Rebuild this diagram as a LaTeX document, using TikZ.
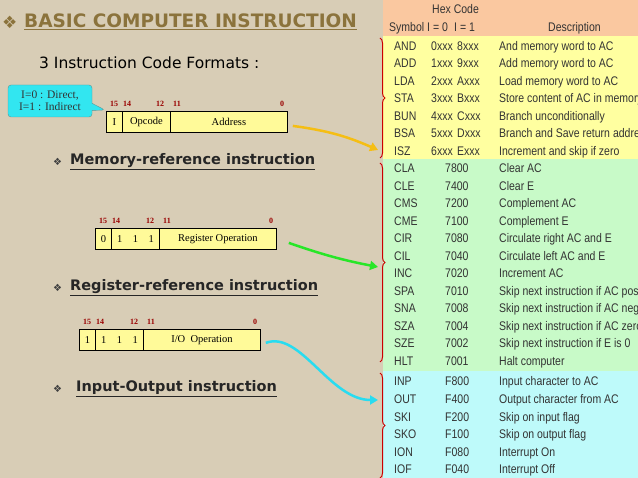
\documentclass[tikz,border=0pt]{standalone}
\usepackage{fontspec}
\usepackage{graphicx}
\setmainfont{Liberation Serif}
\newfontfamily\narrow{Liberation Sans}
\newfontfamily\ttl{DejaVu Sans}
\newfontfamily\ttlc{DejaVu Sans}
\newfontfamily\sym{DejaVu Sans}
\newcommand\nw[1]{\scalebox{0.84}[1]{#1}}
\usetikzlibrary{shapes.callouts,arrows.meta,decorations.pathreplacing}
\begin{document}
\begin{tikzpicture}[x=1pt,y=-1pt,
 tb/.style={font=\narrow\fontsize{12.5}{12.5}\selectfont,text=black!80,anchor=base west,inner sep=0},
 bit/.style={font=\bfseries\fontsize{8}{8}\selectfont,text=red!60!black,inner sep=0},
 cell/.style={draw=black,fill=yellow!40,line width=0.8pt},
 ctext/.style={font=\fontsize{10.5}{10.5}\selectfont,inner sep=0},
 head/.style={font=\ttl\bfseries\fontsize{14.5}{14.5}\selectfont,text=black!85,anchor=west,inner sep=0},
 brc/.style={draw=red!80!black,line width=1pt,decorate,decoration={brace,amplitude=5pt,mirror}},
 arr/.style={line width=2.5pt,-{Triangle[length=8pt,width=9pt]}}]
\useasboundingbox (0,0) rectangle (638,478);
\fill[fill={rgb,255:red,216;green,205;blue,182}] (0,0) rectangle (638,478);
% table backgrounds
\fill[fill={rgb,255:red,250;green,200;blue,160}] (383,0) rectangle (638,36);
\fill[fill={rgb,255:red,255;green,255;blue,160}] (383,36) rectangle (638,159);
\fill[fill={rgb,255:red,200;green,250;blue,200}] (383,159) rectangle (638,371);
\fill[fill={rgb,255:red,190;green,250;blue,250}] (383,371) rectangle (638,478);
\node[tb] (h1) at (432,14) {\nw{Hex Code}};
\node[tb] (h2) at (389,32) {\nw{Symbol}};
\node[tb] (h3) at (427,32) {\nw{I = 0}};
\node[tb] (h4) at (454,32) {\nw{I = 1}};
\node[tb] (h5) at (548,32) {\nw{Description}};
\foreach \i/\s/\a/\b/\d in {0/AND/0xxx/8xxx/And memory word to AC,1/ADD/1xxx/9xxx/Add memory word to AC,2/LDA/2xxx/Axxx/Load memory word to AC,3/STA/3xxx/Bxxx/Store content of AC in memory,4/BUN/4xxx/Cxxx/Branch unconditionally,5/BSA/5xxx/Dxxx/Branch and Save return address,6/ISZ/6xxx/Exxx/Increment and skip if zero}{
 \node[tb] (ms\i) at (394,{50.5+17.5*\i}) {\nw{\s}};
 \node[tb] (ma\i) at (431,{50.5+17.5*\i}) {\nw{\a}};
 \node[tb] (mb\i) at (457,{50.5+17.5*\i}) {\nw{\b}};
 \node[tb] (md\i) at (499,{50.5+17.5*\i}) {\nw{\d}};}
\foreach \i/\s/\a/\d in {0/CLA/7800/Clear AC,1/CLE/7400/Clear E,2/CMS/7200/Complement AC,3/CME/7100/Complement E,4/CIR/7080/Circulate right AC and E,5/CIL/7040/Circulate left AC and E,6/INC/7020/Increment AC,7/SPA/7010/Skip next instruction if AC positive,8/SNA/7008/Skip next instruction if AC negative,9/SZA/7004/Skip next instruction if AC zero,10/SZE/7002/Skip next instruction if E is 0,11/HLT/7001/Halt computer}{
 \node[tb] (rs\i) at (394,{173+17.5*\i}) {\nw{\s}};
 \node[tb] (ra\i) at (445,{173+17.5*\i}) {\nw{\a}};
 \node[tb] (rd\i) at (499,{173+17.5*\i}) {\nw{\d}};}
\foreach \i/\s/\a/\d in {0/INP/F800/Input character to AC,1/OUT/F400/Output character from AC,2/SKI/F200/Skip on input flag,3/SKO/F100/Skip on output flag,4/ION/F080/Interrupt On,5/IOF/F040/Interrupt Off}{
 \node[tb] (is\i) at (394,{386+17.6*\i}) {\nw{\s}};
 \node[tb] (ia\i) at (445,{386+17.6*\i}) {\nw{\a}};
 \node[tb] (id\i) at (499,{386+17.6*\i}) {\nw{\d}};}
% braces
\coordinate (b1t) at (380,38); \coordinate (b1b) at (380,158);
\coordinate (b2t) at (380,163); \coordinate (b2b) at (380,362);
\coordinate (b3t) at (380,373); \coordinate (b3b) at (380,478);
\draw[brc] (b1b) -- (b1t);
\draw[brc] (b2b) -- (b2t);
\draw[brc] (b3b) -- (b3t);
% title
\node[anchor=west,inner sep=0,text={rgb,255:red,139;green,115;blue,60},font=\sym\fontsize{17}{17}\selectfont] (tb) at (2,22) {❖};
\node[anchor=west,inner sep=0,text={rgb,255:red,139;green,115;blue,60},font=\ttlc\bfseries\fontsize{18.5}{18.5}\selectfont] (title) at (24,22) {\underline{BASIC COMPUTER INSTRUCTION}};
\node[anchor=west,inner sep=0,font=\ttl\fontsize{15.5}{15.5}\selectfont] (sub) at (39,63) {3 Instruction Code Formats :};
% box 1
\node[cell,minimum width=16,minimum height=21,anchor=north west] (c1a) at (106,111) {};
\node[cell,minimum width=48,minimum height=21,anchor=north west] (c1b) at (122,111) {};
\node[cell,minimum width=117,minimum height=21,anchor=north west] (c1c) at (170,111) {};
\node[ctext] at (c1a) {I}; \node[ctext] at (c1b) {Opcode}; \node[ctext] at (c1c) {Address};
\node[bit] at (114,104) {15}; \node[bit] at (127,104) {14}; \node[bit] at (160,104) {12}; \node[bit] at (177,104) {11}; \node[bit] at (282,104) {0};
% box 2
\node[cell,minimum width=16,minimum height=21,anchor=north west] (c2a) at (95,228) {};
\node[cell,minimum width=48,minimum height=21,anchor=north west] (c2b) at (111,228) {};
\node[cell,minimum width=117,minimum height=21,anchor=north west] (c2c) at (159,228) {};
\node[ctext] at (c2a) {0}; \node[ctext] at (c2b) {1\quad 1\quad 1}; \node[ctext] at (c2c) {Register Operation};
\node[bit] at (103,221) {15}; \node[bit] at (116,221) {14}; \node[bit] at (150,221) {12}; \node[bit] at (167,221) {11}; \node[bit] at (271,221) {0};
% box 3
\node[cell,minimum width=16,minimum height=21,anchor=north west] (c3a) at (79,329) {};
\node[cell,minimum width=48,minimum height=21,anchor=north west] (c3b) at (95,329) {};
\node[cell,minimum width=117,minimum height=21,anchor=north west] (c3c) at (143,329) {};
\node[ctext] at (c3a) {1}; \node[ctext] at (c3b) {1\quad 1\quad 1}; \node[ctext] at (c3c) {I/O\ \ Operation};
\node[bit] at (87,322) {15}; \node[bit] at (100,322) {14}; \node[bit] at (134,322) {12}; \node[bit] at (151,322) {11}; \node[bit] at (255,322) {0};
% callout
\node[rectangle callout,rounded corners=3pt,draw={rgb,255:red,90;green,150;blue,150},fill={rgb,255:red,50;green,230;blue,240},minimum width=84,minimum height=32,align=center,inner sep=1pt,font=\fontsize{11.5}{12.5}\selectfont,text=black!80,callout absolute pointer={(105,110)}] (call) at (50,101) {I=0 : Direct,\\ I=1 : Indirect};
% headings
\node[anchor=west,inner sep=0,font=\sym\fontsize{10}{10}\selectfont,text=black!75] at (53,162) {❖};
\node[head] (mh) at (70,162) {\underline{Memory-reference instruction}};
\node[anchor=west,inner sep=0,font=\sym\fontsize{10}{10}\selectfont,text=black!75] at (53,288) {❖};
\node[head] (rh) at (70,288) {\underline{Register-reference instruction}};
\node[anchor=west,inner sep=0,font=\sym\fontsize{10}{10}\selectfont,text=black!75] at (53,389) {❖};
\node[head] (ih) at (76,389) {\underline{Input-Output instruction}};
% arrows
\coordinate (e1) at (378,150); \coordinate (e2) at (378,267); \coordinate (e3) at (378,400);
\draw[arr,draw={rgb,255:red,245;green,190;blue,20}] ([xshift=5pt,yshift=-4pt]c1c.east) to[bend left=8] (e1);
\draw[arr,draw={rgb,255:red,40;green,230;blue,40}] ([xshift=12pt,yshift=-4pt]c2c.east) to[bend left=-4] (e2);
\draw[arr,draw={rgb,255:red,40;green,220;blue,240}] ([xshift=5pt,yshift=-3pt]c3c.east) .. controls (300,330) and (330,400) .. (e3);
\end{tikzpicture}
\end{document}
